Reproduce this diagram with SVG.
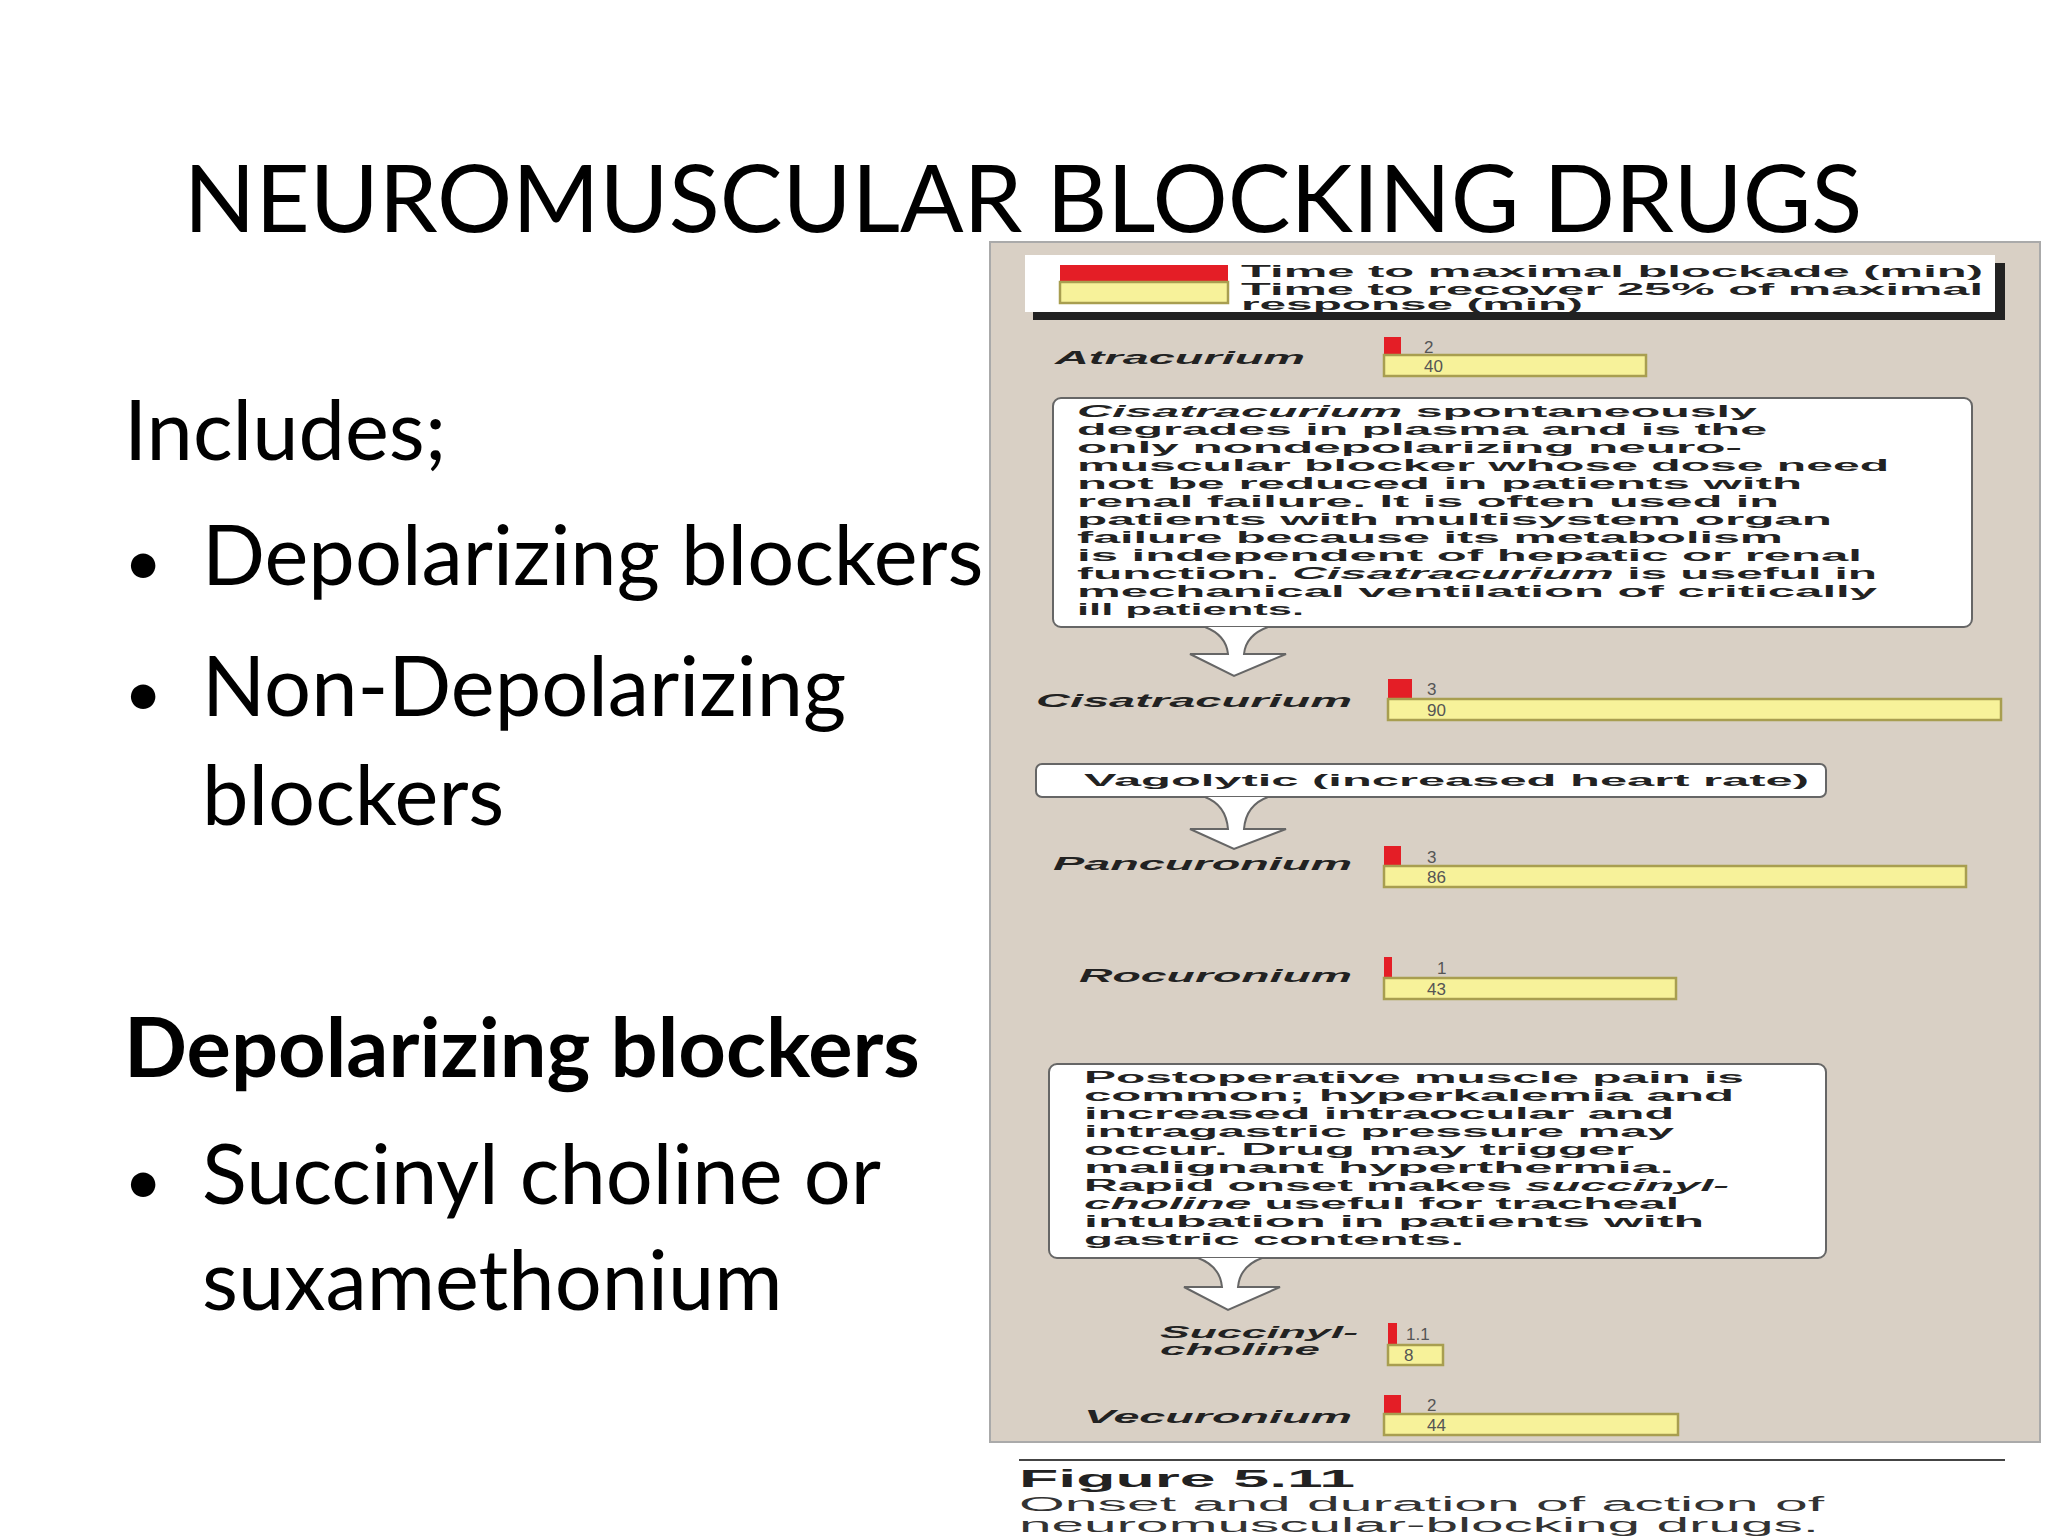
<svg xmlns="http://www.w3.org/2000/svg" width="2048" height="1536" viewBox="0 0 2048 1536">
<style>
.t{font-family:Lato,"Liberation Sans",sans-serif;fill:#000}
.f{font-family:"Liberation Sans",Arial,sans-serif;font-weight:bold;fill:#222}
.fi{font-family:"Liberation Sans",Arial,sans-serif;font-weight:bold;font-style:italic;fill:#222}
.n{font-family:"Liberation Sans",Arial,sans-serif;font-size:17px;fill:#555}
.red{fill:#e41e26}
.yel{fill:#f7f29a;stroke:#a89e50;stroke-width:2.5}
.box{fill:#fff;stroke:#666;stroke-width:2}
.arr{fill:#fff;stroke:#666;stroke-width:2}
</style>
<rect width="2048" height="1536" fill="#fff"/>
<text class="t" x="1023" y="232" font-size="94" text-anchor="middle">NEUROMUSCULAR BLOCKING DRUGS</text>
<g id="left-text" class="t" font-size="83">
<text x="124" y="585" font-size="66">•</text><text x="202" y="585">Depolarizing blockers</text>
<text x="124" y="460">Includes;</text>
<text x="124" y="716" font-size="66">•</text><text x="202" y="716">Non-Depolarizing</text>
<text x="202" y="825">blockers</text>
<text x="124" y="1077" font-weight="bold">Depolarizing blockers</text>
<text x="124" y="1204" font-size="66">•</text><text x="202" y="1204">Succinyl choline or</text>
<text x="202" y="1310">suxamethonium</text>
</g>
<g id="figure">
<rect x="990" y="242" width="1050" height="1200" fill="#d9d0c5" stroke="#aaa" stroke-width="2"/>
<g id="legend">
<rect x="1033" y="263" width="972" height="57" fill="#222"/>
<rect x="1025" y="255" width="970" height="57" fill="#fff"/>
<rect x="1060" y="265" width="168" height="17" class="red"/>
<rect x="1060" y="282" width="168" height="21" class="yel"/>
<text class="f" x="1241" y="277" font-size="17" textLength="742" lengthAdjust="spacingAndGlyphs">Time to maximal blockade (min)</text>
<text class="f" x="1241" y="295" font-size="17" textLength="742" lengthAdjust="spacingAndGlyphs">Time to recover 25% of maximal</text>
<text class="f" x="1241" y="310" font-size="17" textLength="342" lengthAdjust="spacingAndGlyphs">response (min)</text>
</g>
<g id="atracurium">
<text class="fi" x="1055" y="364" font-size="18" textLength="250" lengthAdjust="spacingAndGlyphs">Atracurium</text>
<rect x="1384" y="337" width="17" height="18" class="red"/>
<rect x="1384" y="355" width="262" height="21" class="yel"/>
<text class="n" x="1424" y="353">2</text><text class="n" x="1424" y="372">40</text>
</g>
<g id="cis-note">
<rect x="1053" y="398" width="919" height="229" rx="8" class="box"/>
<g font-size="16">
<text x="1077" y="417" textLength="680" lengthAdjust="spacingAndGlyphs" class="f"><tspan class="fi">Cisatracurium</tspan> spontaneously</text>
<text class="f" x="1077" y="435" textLength="690" lengthAdjust="spacingAndGlyphs">degrades in plasma and is the</text>
<text class="f" x="1077" y="453" textLength="665" lengthAdjust="spacingAndGlyphs">only nondepolarizing neuro-</text>
<text class="f" x="1077" y="471" textLength="812" lengthAdjust="spacingAndGlyphs">muscular blocker whose dose need</text>
<text class="f" x="1077" y="489" textLength="725" lengthAdjust="spacingAndGlyphs">not be reduced in patients with</text>
<text class="f" x="1077" y="507" textLength="702" lengthAdjust="spacingAndGlyphs">renal failure. It is often used in</text>
<text class="f" x="1077" y="525" textLength="755" lengthAdjust="spacingAndGlyphs">patients with multisystem organ</text>
<text class="f" x="1077" y="543" textLength="706" lengthAdjust="spacingAndGlyphs">failure because its metabolism</text>
<text class="f" x="1077" y="561" textLength="785" lengthAdjust="spacingAndGlyphs">is independent of hepatic or renal</text>
<text x="1077" y="579" textLength="800" lengthAdjust="spacingAndGlyphs" class="f">function. <tspan class="fi">Cisatracurium</tspan> is useful in</text>
<text class="f" x="1077" y="597" textLength="800" lengthAdjust="spacingAndGlyphs">mechanical ventilation of critically</text>
<text class="f" x="1077" y="615" textLength="227" lengthAdjust="spacingAndGlyphs">ill patients.</text>
</g>
</g>
<g id="cisatracurium">
<text class="fi" x="1036" y="707" font-size="18" textLength="316" lengthAdjust="spacingAndGlyphs">Cisatracurium</text>
<rect x="1388" y="679" width="24" height="20" class="red"/>
<rect x="1388" y="699" width="613" height="21" class="yel"/>
<text class="n" x="1427" y="695">3</text><text class="n" x="1427" y="716">90</text>
</g>
<g id="vago-note">
<rect x="1036" y="764" width="790" height="33" rx="6" class="box"/>
<text class="f" x="1084" y="786" font-size="17" textLength="725" lengthAdjust="spacingAndGlyphs">Vagolytic (increased heart rate)</text>
</g>
<g id="pancuronium">
<text class="fi" x="1053" y="870" font-size="18" textLength="299" lengthAdjust="spacingAndGlyphs">Pancuronium</text>
<rect x="1384" y="846" width="17" height="20" class="red"/>
<rect x="1384" y="866" width="582" height="21" class="yel"/>
<text class="n" x="1427" y="863">3</text><text class="n" x="1427" y="883">86</text>
</g>
<g id="rocuronium">
<text class="fi" x="1079" y="982" font-size="18" textLength="273" lengthAdjust="spacingAndGlyphs">Rocuronium</text>
<rect x="1384" y="957" width="8" height="21" class="red"/>
<rect x="1384" y="978" width="292" height="21" class="yel"/>
<text class="n" x="1437" y="974">1</text><text class="n" x="1427" y="995">43</text>
</g>
<g id="succ-note">
<rect x="1049" y="1064" width="777" height="194" rx="8" class="box"/>
<g font-size="16">
<text class="f" x="1084" y="1083" textLength="660" lengthAdjust="spacingAndGlyphs">Postoperative muscle pain is</text>
<text class="f" x="1084" y="1101" textLength="650" lengthAdjust="spacingAndGlyphs">common; hyperkalemia and</text>
<text class="f" x="1084" y="1119" textLength="590" lengthAdjust="spacingAndGlyphs">increased intraocular and</text>
<text class="f" x="1084" y="1137" textLength="590" lengthAdjust="spacingAndGlyphs">intragastric pressure may</text>
<text class="f" x="1084" y="1155" textLength="550" lengthAdjust="spacingAndGlyphs">occur. Drug may trigger</text>
<text class="f" x="1084" y="1173" textLength="590" lengthAdjust="spacingAndGlyphs">malignant hyperthermia.</text>
<text x="1084" y="1191" textLength="645" lengthAdjust="spacingAndGlyphs" class="f">Rapid onset makes <tspan class="fi">succinyl-</tspan></text>
<text x="1084" y="1209" textLength="595" lengthAdjust="spacingAndGlyphs" class="f"><tspan class="fi">choline</tspan> useful for tracheal</text>
<text class="f" x="1084" y="1227" textLength="620" lengthAdjust="spacingAndGlyphs">intubation in patients with</text>
<text class="f" x="1084" y="1245" textLength="380" lengthAdjust="spacingAndGlyphs">gastric contents.</text>
</g>
</g>
<g id="succinylcholine">
<text class="fi" x="1160" y="1338" font-size="17" textLength="198" lengthAdjust="spacingAndGlyphs">Succinyl-</text>
<text class="fi" x="1160" y="1355" font-size="17" textLength="160" lengthAdjust="spacingAndGlyphs">choline</text>
<rect x="1388" y="1323" width="9" height="22" class="red"/>
<rect x="1388" y="1345" width="55" height="20" class="yel"/>
<text class="n" x="1406" y="1340">1.1</text><text class="n" x="1404" y="1361">8</text>
</g>
<g id="vecuronium">
<text class="fi" x="1084" y="1423" font-size="18" textLength="268" lengthAdjust="spacingAndGlyphs">Vecuronium</text>
<rect x="1384" y="1395" width="17" height="19" class="red"/>
<rect x="1384" y="1414" width="294" height="21" class="yel"/>
<text class="n" x="1427" y="1411">2</text><text class="n" x="1427" y="1431">44</text>
</g>
<g id="caption">
<line x1="1019" y1="1460" x2="2005" y2="1460" stroke="#444" stroke-width="2"/>
<text class="f" x="1019" y="1487" font-size="23" textLength="336" lengthAdjust="spacingAndGlyphs">Figure 5.11</text>
<text x="1019" y="1511" font-size="20" textLength="805" lengthAdjust="spacingAndGlyphs" font-family="Liberation Sans,sans-serif" fill="#333">Onset and duration of action of</text>
<text x="1019" y="1532" font-size="20" textLength="800" lengthAdjust="spacingAndGlyphs" font-family="Liberation Sans,sans-serif" fill="#333">neuromuscular-blocking drugs.</text>
</g>
</g>
<g id="connectors">
<path class="arr" d="M1205,627 Q1226,635 1228,654 L1190,654 L1234,676 L1286,654 L1244,654 Q1246,635 1268,627"/>
<path class="arr" d="M1205,797 Q1226,805 1228,829 L1190,829 L1234,849 L1286,829 L1244,829 Q1246,805 1268,797"/>
<path class="arr" d="M1198,1258 Q1220,1266 1222,1287 L1184,1287 L1228,1310 L1280,1287 L1238,1287 Q1240,1266 1262,1258"/>
</g>
</svg>
